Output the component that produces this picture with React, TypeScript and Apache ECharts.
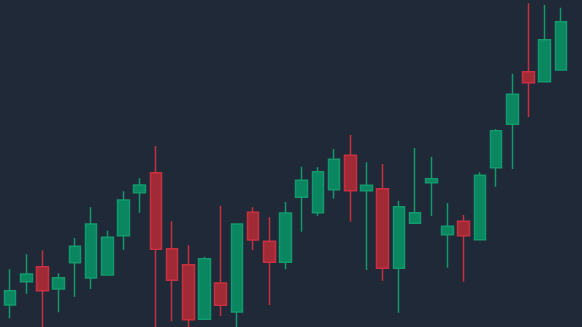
import React, { useEffect, useRef } from "react";
import * as echarts from "echarts";

// candle index labels
const categories = Array.from({ length: 35 }, (_, i) => `D${i + 1}`);
// [open, close, low, high] (price units)
const opens = [22, 45.3, 60.3, 38, 64.3, 49, 52, 91.3, 134.3, 154.3, 78.3, 62.3, 7.7, 44, 15, 114.7, 85.7, 64.7, 129.7, 114.3, 137.3, 171.7, 136.3, 138.3, 58.7, 103.7, 144.3, 92.3, 105.7, 87.3, 159.3, 202.7, 255.3, 245.3, 257];
const closes = [36.3, 53, 36.3, 49.3, 80.7, 103, 89.7, 127, 142, 77.7, 46.7, 7.3, 68.3, 21.7, 103, 87, 64.7, 114, 146.7, 155.3, 167.7, 136.3, 141.7, 58.7, 120.3, 114.3, 148.3, 100.7, 91.3, 151.7, 196.3, 232.7, 244.3, 287.3, 305.3];
const lows = [8.7, 33.3, -3, 14.7, 30.3, 38, 52, 77.3, 114.3, -3, 5.7, -3, 7.7, 11, -3, 77, 22, 57.7, 95.3, 111.3, 128.3, 105.3, 57, 46.3, 14.3, 103.7, 111, 59.3, 45.3, 87.3, 140.3, 158, 210, 245.3, 257];
const highs = [57.7, 72.7, 76.7, 53.7, 89, 119.7, 96.3, 135.7, 148.7, 181, 105.7, 81.7, 70.3, 121.3, 103, 119.7, 109.7, 125, 160.3, 159.7, 178, 192, 164.7, 163, 126.3, 179, 170, 124, 112, 154.7, 198, 253.3, 323.7, 322, 319.3];

export default function App() {
  const ref = useRef<HTMLDivElement>(null);
  useEffect(() => {
    if (!ref.current) return;
    const chart = echarts.init(ref.current, undefined, { renderer: "svg" });
    chart.setOption({
      animation: false,
      backgroundColor: "#1f2937",
      grid: { left: 2, right: 13, top: 0, bottom: 0 },
      xAxis: {
        type: "category",
        data: categories,
        show: false,
        boundaryGap: true,
      },
      yAxis: {
        type: "value",
        min: 0,
        max: 327,
        show: false,
        splitLine: { show: false },
      },
      series: [
        {
          type: "candlestick",
          barWidth: "74%",
          clip: true,
          data: categories.map((_, i) => [opens[i], closes[i], lows[i], highs[i]]),
          itemStyle: {
            color: "#0a8660",
            color0: "#a02b37",
            borderColor: "#12996c",
            borderColor0: "#c8303f",
            borderWidth: 1.5,
          },
        },
      ],
    });
    return () => chart.dispose();
  }, []);
  return (
    <div
      ref={ref}
      style={{ position: "fixed", left: 0, top: 0, width: 582, height: 327 }}
    />
  );
}
